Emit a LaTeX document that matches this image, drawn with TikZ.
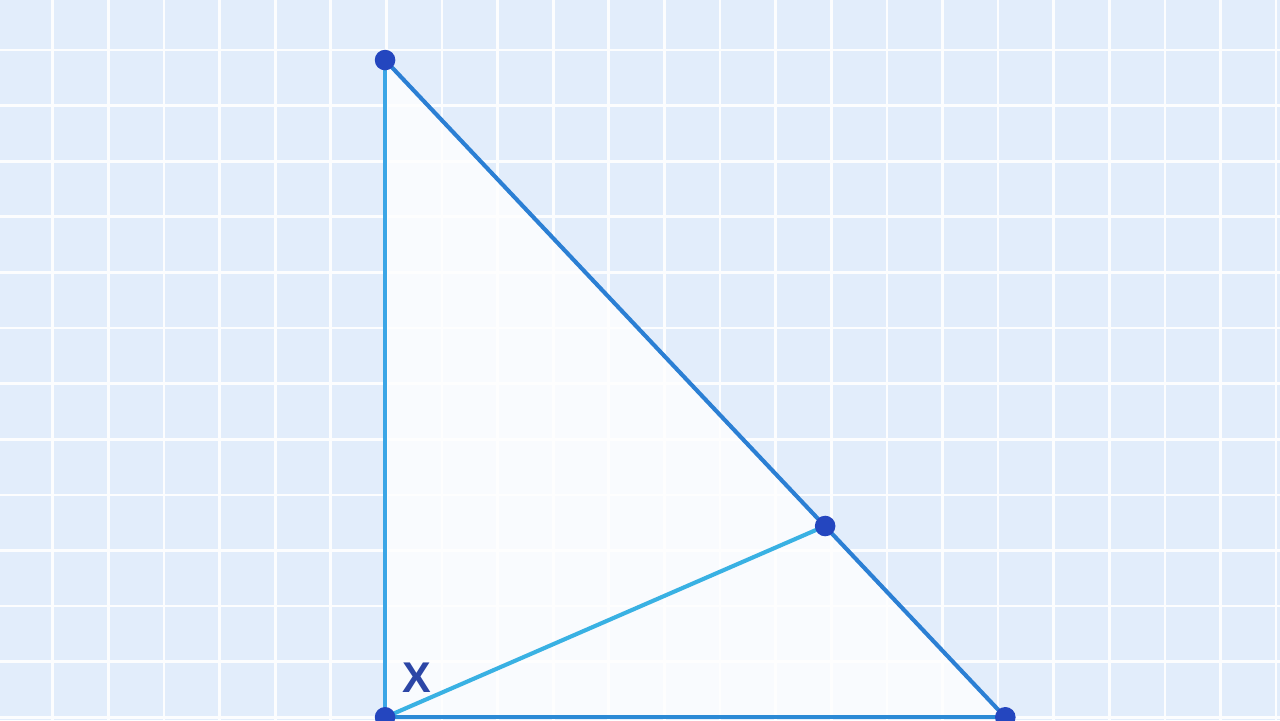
\documentclass[tikz,border=0pt]{standalone}
\usepackage{fontspec}
\setsansfont{Liberation Sans}
\definecolor{paper}{HTML}{E2EDFB}
\definecolor{sidea}{HTML}{2B7FD4}
\definecolor{sideb}{HTML}{3BA6E6}
\definecolor{sidec}{HTML}{39B1E3}
\definecolor{sided}{HTML}{2B8AD6}
\definecolor{dotblue}{HTML}{2446BF}
\definecolor{labelblue}{HTML}{2C46A6}
\tikzset{
  gridline/.style={white,opacity=0.9,line width=1.4pt},
  edge/.style={line width=2.1pt,line cap=round},
  vertex/.style={circle,fill=dotblue,inner sep=0pt,minimum size=0.37cm},
}
\begin{document}
\begin{tikzpicture}

\useasboundingbox (0,0) rectangle (23.02,12.95);
\clip (0,0) rectangle (23.02,12.95);
\fill[paper] (0,0) rectangle (23.02,12.95);
\begin{scope}[shift={(0.95,0.05)}]
\draw[gridline] (-1,-1) grid (23,13);
\end{scope}

\coordinate (A) at (6.925,11.87);
\coordinate (B) at (6.925,0.05);
\coordinate (C) at (18.08,0.05);
\coordinate (D) at (14.84,3.49);

\fill[white,fill opacity=0.82] (A) -- (B) -- (C) -- cycle;
\draw[edge,sideb] (A) -- (B);
\draw[edge,sided] (B) -- (C);
\draw[edge,sidea] (A) -- (C);
\draw[edge,sidec] (B) -- (D);

\node[vertex] (a) at (A) {};
\node[vertex] (b) at (B) {};
\node[vertex] (c) at (C) {};
\node[vertex] (d) at (D) {};

\node[labelblue,font=\sffamily\bfseries\fontsize{22}{24}\selectfont] (x) at (7.49,0.76) {X};

\end{tikzpicture}
\end{document}
